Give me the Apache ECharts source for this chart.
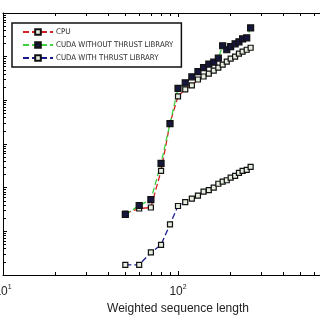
<!DOCTYPE html>
<html>
<head>
<meta charset="utf-8">
<script src="https://cdn.jsdelivr.net/npm/echarts@6/dist/echarts.min.js"></script>
<style>
  html, body { margin: 0; padding: 0; background: #fff; overflow: hidden; }
  #wrap { position: relative; width: 320px; height: 320px; overflow: hidden; }
  /* the source figure is cropped: the plot continues past the left/right edges */
  #chart { position: absolute; left: -60px; top: 0; width: 440px; height: 320px; }
</style>
</head>
<body>
<div id="wrap"><div id="chart"></div></div>
<script>
// weighted sequence length (x)
var seqLen = [50, 60, 70, 80, 90, 100, 110, 120, 130, 140, 150, 160, 170, 180, 190, 200, 212, 223, 234, 247, 260];

// CPU (red, open markers)
var cpuVals = [0.0256, 0.0333, 0.0351, 0.243, 3.0, 12.3, 17.8, 21.9, 30, 35.1, 41.1, 48.1, 56.2, 65.8, 76.9, 90.1, 100, 117, 130, 144, 160];
// CUDA without thrust (green, filled markers)
var cudaNoThrust = [0.0243, 0.039, 0.0533, 0.36, 2.92, 18.7, 25.2, 34.6, 45.6, 56.2, 67.6, 75, 92.5, 178, 144, 169, 197, 219, 256, 270, 456];
// CUDA with thrust (blue, open markers)
var cudaThrust = [0.00171, 0.00171, 0.00328, 0.00489, 0.0144, 0.038, 0.0468, 0.0562, 0.0658, 0.081, 0.0877, 0.1, 0.123, 0.137, 0.148, 0.169, 0.187, 0.219, 0.243, 0.256, 0.30];

var xTickLabels = { 10: '{b|10}{s|1}', 100: '{b|10}{s|2}', 1000: '{b|10}{s|3}' };
var legendNames = ['CPU', 'CUDA WITHOUT THRUST LIBRARY', 'CUDA WITH THRUST LIBRARY'];

function pairs(xs, ys) {
  var out = [];
  for (var i = 0; i < xs.length; i++) out.push([xs[i], ys[i]]);
  return out;
}

function makeSeries(name, vals, lineColor, fill, size) {
  return {
    name: name,
    type: 'line',
    data: pairs(seqLen, vals),
    symbol: 'rect',
    symbolSize: size,
    showAllSymbol: true,
    lineStyle: { color: lineColor, width: 1.3, type: [6, 3] },
    itemStyle: { color: fill, borderColor: '#111', borderWidth: 1.2 },
    animation: false
  };
}

var myChart = echarts.init(document.getElementById('chart'));

var axisLineStyle = { lineStyle: { color: '#000', width: 1 } };

var option = {
  backgroundColor: '#fff',
  grid: { left: 63, right: 27, top: 13, bottom: 43 },
  legend: {
    data: legendNames,
    orient: 'vertical',
    left: 72,
    top: 23,
    padding: [5, 8, 5, 10],
    itemGap: 5,
    itemWidth: 30,
    itemHeight: 7,
    backgroundColor: '#fff',
    borderColor: '#111',
    borderWidth: 1.5,
    borderRadius: 0,
    textStyle: { fontSize: 7.8, color: '#2a2a2a', fontFamily: 'DejaVu Sans Condensed, DejaVu Sans, sans-serif', padding: [0, 0, 0, -2] }
  },
  xAxis: [{
    type: 'log',
    logBase: 10,
    min: 10,
    max: 1000,
    name: 'Weighted sequence length',
    nameLocation: 'middle',
    nameGap: 28,
    nameTextStyle: { fontSize: 12, color: '#222', fontFamily: 'Liberation Sans, Arial, sans-serif' },
    axisLine: axisLineStyle,
    axisTick: { inside: true, length: 4, lineStyle: { color: '#000' } },
    minorTick: { show: true, splitNumber: 9, length: 3, lineStyle: { color: '#000' } },
    splitLine: { show: false },
    axisLabel: {
      margin: 9,
      formatter: function (v) { return xTickLabels[Math.round(v)] || ''; },
      rich: {
        b: { fontSize: 12, color: '#222', fontFamily: 'Liberation Sans, Arial, sans-serif' },
        s: { fontSize: 7, color: '#222', verticalAlign: 'top', padding: [0, 0, 9, 0] }
      }
    }
  }, {
    type: 'log',
    logBase: 10,
    min: 10,
    max: 1000,
    position: 'top',
    axisLine: axisLineStyle,
    axisTick: { inside: true, length: 4, lineStyle: { color: '#000' } },
    minorTick: { show: true, splitNumber: 9, length: 3, lineStyle: { color: '#000' } },
    splitLine: { show: false },
    axisLabel: { show: false }
  }],
  yAxis: {
    type: 'log',
    logBase: 10,
    min: 0.001,
    max: 1000,
    splitNumber: 6,
    axisLine: axisLineStyle,
    axisTick: { inside: true, length: 4, lineStyle: { color: '#000' } },
    minorTick: { show: true, splitNumber: 9, length: 3, lineStyle: { color: '#000' } },
    splitLine: { show: false },
    axisLabel: { show: false }
  },
  series: [
    makeSeries(legendNames[0], cpuVals, '#d42020', '#e6eee0', 5),
    makeSeries(legendNames[1], cudaNoThrust, '#3fd03f', '#16163c', 6),
    makeSeries(legendNames[2], cudaThrust, '#1a1a90', '#e6eee0', 5)
  ]
};

myChart.setOption(option);
</script>
</body>
</html>
